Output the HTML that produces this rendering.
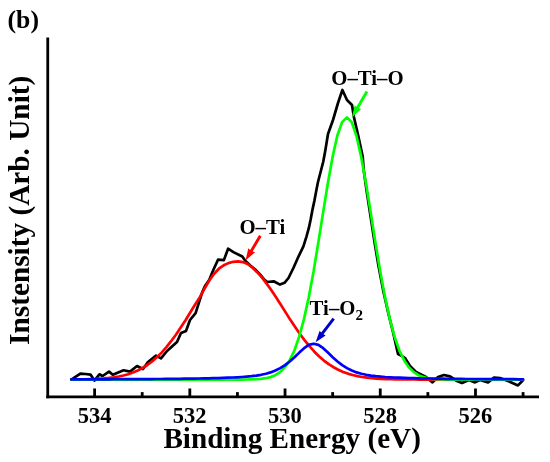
<!DOCTYPE html>
<html><head><meta charset="utf-8"><title>XPS O 1s</title>
<style>
html,body{margin:0;padding:0;background:#fff}
svg{display:block}
text{font-family:"Liberation Serif","Times New Roman",serif;font-weight:bold;fill:#000}
</style></head><body>
<svg width="550" height="462" viewBox="0 0 550 462">
<rect width="550" height="462" fill="#fff"/>
<g fill="none" stroke-linejoin="round" stroke-linecap="round" stroke-width="2.7">
<polyline stroke="#000" points="71.3,379.6 80.4,373.6 85.4,374 90.5,374.6 94.4,380.6 99.4,374.3 102.6,376 109,371.6 112.8,374.8 123.6,370.3 130,371.6 137,366 143,369 148,362 156,355.6 161,358.4 167,351 177,342 181,333 186,331 190,320 195.6,313.1 199,302.4 202.5,291.5 205,286 209.3,279.8 213.3,270 218,259.7 223.9,260.1 228.1,248.7 233.4,252.1 242.3,256.5 245.5,261 250,265.3 255,269.3 260,274.4 264.5,279.8 267.4,282 273.7,281.3 280,284.6 284.5,282.8 288.5,278 293.4,268 298.5,256.5 303.4,246.4 306.3,237.1 308.8,228.2 310.7,219.3 312.6,209.1 314.5,200.2 316.4,190 318,182 323.3,161.5 325.4,150 328,134 333,120 338,103 342.4,90 347,100 352,105 353.8,116.5 357.9,134.4 360.4,145.8 362.7,156.5 363.7,170 366.5,190 370.5,216 374.5,242 378.5,266 383.5,292 388.5,314 393,332 398,354 402,356 405,358 410,366 416,372 420,374 426,377 432.5,382.4 438,377 444,375 450,376.4 457,381 462,383 469,380 475,382.4 480,380 488,382.4 494,377.6 500,378 508,381 518,385.4 523,380.3"/>
<polyline stroke="#f00" points="71.3,379.5 75.6,379.5 80.4,379.4 85.2,379.3 90.0,379.2 94.8,379.0 99.5,378.7 104.3,378.4 109.1,377.9 113.8,377.3 118.6,376.5 123.4,375.5 128.2,374.2 132.9,372.5 137.7,370.5 142.5,368.0 147.3,365.0 152.1,361.4 156.8,357.3 161.6,352.6 166.4,347.2 171.1,341.2 175.9,334.7 180.7,327.6 185.5,320.2 190.2,312.5 195.0,304.7 199.8,297.1 204.6,288.6 209.3,280.5 214.1,273.8 218.9,268.7 223.7,265.3 228.4,263.1 233.2,261.8 238.0,261.4 242.8,262.1 247.6,264.0 252.3,267.5 257.1,272.2 261.9,277.4 266.6,283.6 271.4,290.3 276.2,297.6 281.0,305.0 285.8,312.6 290.5,320.1 295.3,327.3 300.1,334.2 304.9,340.6 309.6,346.4 314.4,351.7 319.2,356.5 323.9,360.6 328.7,364.2 333.5,367.2 338.3,369.8 343.1,371.9 347.8,373.6 352.6,375.0 357.4,376.1 362.1,377.0 366.9,377.7 371.7,378.2 376.5,378.6 381.2,378.9 386.0,379.1 390.8,379.2 395.6,379.3 400.4,379.4 405.1,379.5 409.9,379.5 414.7,379.5 419.5,379.6 424.2,379.6 429.0,379.6 433.8,379.6 438.6,379.6 443.3,379.6 448.1,379.6 452.9,379.6 457.6,379.6 462.4,379.6 467.2,379.6 472.0,379.6 476.8,379.6 481.5,379.6 486.3,379.6 491.1,379.6 495.9,379.6 500.6,379.6 505.4,379.6 510.2,379.6 515.0,379.6 519.7,379.6 523.0,379.6"/>
<polyline stroke="#0f0" points="71.3,379.6 74.7,379.6 79.5,379.6 84.3,379.6 89.0,379.6 93.8,379.6 98.6,379.6 103.4,379.6 108.1,379.6 112.9,379.6 117.7,379.6 122.5,379.6 127.2,379.6 132.0,379.6 136.8,379.6 141.6,379.6 146.3,379.6 151.1,379.6 155.9,379.6 160.7,379.6 165.4,379.6 170.2,379.6 175.0,379.6 179.8,379.6 184.5,379.6 189.3,379.6 194.1,379.6 198.9,379.6 203.6,379.6 208.4,379.6 213.2,379.6 218.0,379.6 222.7,379.6 227.5,379.6 232.3,379.6 237.1,379.6 241.8,379.6 246.6,379.5 251.4,379.4 256.2,379.2 260.9,378.9 265.7,378.2 270.5,377.1 275.3,375.2 280.0,372.1 284.8,367.4 289.6,360.4 294.4,350.5 299.1,336.9 303.9,319.4 308.7,297.6 313.5,271.9 318.2,243.2 323.0,213.1 327.8,183.5 332.6,156.9 337.3,135.8 342.1,122.1 346.9,117.4 351.7,122.1 356.4,135.8 361.2,156.9 366.0,183.5 370.8,213.1 375.5,243.2 380.3,271.9 385.1,297.6 389.9,319.4 394.6,336.9 399.4,350.5 404.2,360.4 409.0,367.4 413.8,372.1 418.5,375.2 423.3,377.1 428.1,378.2 432.8,378.9 437.6,379.2 442.4,379.4 447.2,379.5 451.9,379.6 456.7,379.6 461.5,379.6 466.3,379.6 471.0,379.6 475.8,379.6 480.6,379.6 485.4,379.6 490.1,379.6 494.9,379.6 499.7,379.6 504.5,379.6 509.2,379.6 514.0,379.6 518.8,379.6 523.0,379.6"/>
<polyline stroke="#00f" points="71.3,379.4 74.8,379.3 79.6,379.3 84.4,379.3 89.2,379.3 94.0,379.3 98.7,379.3 103.5,379.3 108.3,379.3 113.1,379.2 117.8,379.2 122.6,379.2 127.4,379.2 132.2,379.2 136.9,379.1 141.7,379.1 146.5,379.1 151.2,379.1 156.0,379.0 160.8,379.0 165.6,378.9 170.4,378.9 175.1,378.9 179.9,378.8 184.7,378.7 189.5,378.7 194.2,378.6 199.0,378.5 203.8,378.4 208.6,378.3 213.3,378.2 218.1,378.1 222.9,377.9 227.7,377.7 232.4,377.5 237.2,377.3 242.0,377.0 246.8,376.6 251.5,376.2 256.3,375.6 261.1,374.8 265.9,373.7 270.6,372.4 275.4,370.5 280.2,368.1 285.0,365.1 289.7,361.5 294.5,357.2 299.3,352.6 304.1,348.2 308.8,344.9 313.6,343.7 318.4,344.9 323.2,348.2 327.9,352.6 332.7,357.2 337.5,361.5 342.2,365.1 347.0,368.1 351.8,370.5 356.6,372.4 361.4,373.7 366.1,374.8 370.9,375.6 375.7,376.2 380.5,376.6 385.2,377.0 390.0,377.3 394.8,377.5 399.6,377.7 404.3,377.9 409.1,378.1 413.9,378.2 418.7,378.3 423.4,378.4 428.2,378.5 433.0,378.6 437.8,378.7 442.5,378.7 447.3,378.8 452.1,378.9 456.9,378.9 461.6,378.9 466.4,379.0 471.2,379.0 476.0,379.1 480.7,379.1 485.5,379.1 490.3,379.1 495.1,379.2 499.8,379.2 504.6,379.2 509.4,379.2 514.2,379.2 518.9,379.3 523.0,379.3"/>
</g>
<g stroke="#000" stroke-width="2.8" fill="none">
<path d="M47.75 37.5V398.2"/>
<path d="M46.3 396.8H539"/>
<line x1="94.60" y1="396.8" x2="94.60" y2="388.5"/><line x1="142.21" y1="396.8" x2="142.21" y2="392.1"/><line x1="189.82" y1="396.8" x2="189.82" y2="388.5"/><line x1="237.43" y1="396.8" x2="237.43" y2="392.1"/><line x1="285.04" y1="396.8" x2="285.04" y2="388.5"/><line x1="332.65" y1="396.8" x2="332.65" y2="392.1"/><line x1="380.26" y1="396.8" x2="380.26" y2="388.5"/><line x1="427.87" y1="396.8" x2="427.87" y2="392.1"/><line x1="475.48" y1="396.8" x2="475.48" y2="388.5"/><line x1="523.09" y1="396.8" x2="523.09" y2="392.1"/>
</g>
<!-- arrows -->
<polygon fill="#f00" points="259.05,235.06 250.15,249.98 248.30,248.30 245.50,260.60 255.00,252.29 252.64,251.47 261.55,236.54"/><polygon fill="#0f0" points="365.65,90.87 356.41,106.82 354.63,105.21 351.90,117.50 361.20,109.02 358.92,108.28 368.15,92.33"/><polygon fill="#0000cc" points="332.55,317.72 321.18,332.60 319.62,330.77 315.60,342.30 325.66,335.39 323.49,334.36 334.85,319.48"/>
<text transform="translate(7.5,27.7) scale(1.03,1)" font-size="25">(b)</text>
<text x="94.5" y="422.6" text-anchor="middle" font-size="22.5">534</text><text x="189.7" y="422.6" text-anchor="middle" font-size="22.5">532</text><text x="284.9" y="422.6" text-anchor="middle" font-size="22.5">530</text><text x="380.2" y="422.6" text-anchor="middle" font-size="22.5">528</text><text x="475.4" y="422.6" text-anchor="middle" font-size="22.5">526</text>
<text transform="translate(163.4,447.8) scale(1.012,1)" font-size="28.8">Binding Energy (eV)</text>
<text transform="translate(28.5,344.9) rotate(-90) scale(1.017,1)" font-size="28.8">Instensity (Arb. Unit)</text>
<text transform="translate(331.2,85.3) scale(1.03,1)" font-size="20.2">O–Ti–O</text>
<text transform="translate(239.4,233.6) scale(1.03,1)" font-size="20.2">O–Ti</text>
<text transform="translate(309.6,314.9) scale(1.03,1)" font-size="20.2">Ti–O<tspan font-size="14.6" dy="5.2">2</tspan></text>
</svg>
</body></html>
